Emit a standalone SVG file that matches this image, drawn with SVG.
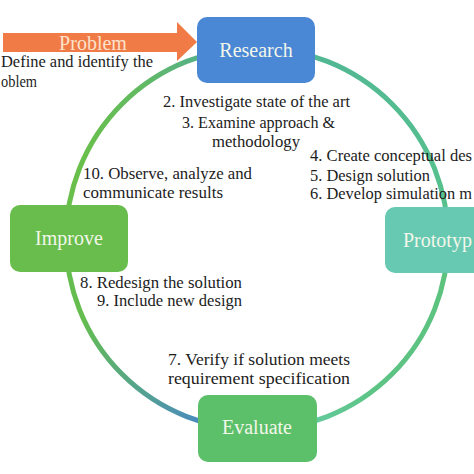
<svg xmlns="http://www.w3.org/2000/svg" width="474" height="474" viewBox="0 0 474 474">
  <style>
    .box { stroke: none; }
    .lbl { font-family: "Liberation Serif", "Times New Roman", serif; font-size: 20px; fill: #f2f7ea; text-anchor: middle; }
    .t { font-family: "Liberation Serif", "Times New Roman", serif; font-size: 16.5px; fill: #1c1c1c; }
    .ring { fill: none; stroke-width: 5; stroke-linecap: butt; }
  </style>
  <defs>
    <linearGradient id="gA" gradientUnits="userSpaceOnUse" x1="257" y1="48" x2="448" y2="239">
      <stop offset="0" stop-color="#50b596"/>
      <stop offset="1" stop-color="#57c28c"/>
    </linearGradient>
    <linearGradient id="gB" gradientUnits="userSpaceOnUse" x1="448" y1="239" x2="257" y2="430">
      <stop offset="0" stop-color="#5cc27c"/>
      <stop offset="0.6" stop-color="#5dc486"/>
      <stop offset="1" stop-color="#66cdaa"/>
    </linearGradient>
    <linearGradient id="gC" gradientUnits="userSpaceOnUse" x1="197" y1="420" x2="80" y2="320">
      <stop offset="0" stop-color="#4b8cbc"/>
      <stop offset="0.45" stop-color="#55a58a"/>
      <stop offset="1" stop-color="#66bd4f"/>
    </linearGradient>
    <linearGradient id="gD" gradientUnits="userSpaceOnUse" x1="90" y1="160" x2="197" y2="57">
      <stop offset="0" stop-color="#69bf4c"/>
      <stop offset="0.6" stop-color="#62ba62"/>
      <stop offset="1" stop-color="#56b188"/>
    </linearGradient>
  </defs>

  <g id="connectors">
    <path class="ring" stroke="url(#gA)" d="M 257 48 A 191 191 0 0 1 448 239"/>
    <path class="ring" stroke="url(#gB)" d="M 448 239 A 191 191 0 0 1 257 430"/>
    <path class="ring" stroke="url(#gC)" d="M 257 430 A 191 191 0 0 1 66 239"/>
    <path class="ring" stroke="url(#gD)" d="M 66 239 A 191 191 0 0 1 257 48"/>
    <g id="problem-arrow">
      <polygon fill="#f07b46" points="3,33 177,33 177,22 197,42 177,61 177,52 3,52"/>
      <text x="93" y="50" text-anchor="middle" style="font-family: 'Liberation Serif', 'Times New Roman', serif; font-size: 20px; fill: #fde2cc;">Problem</text>
    </g>
  </g>

  <g id="research">
    <rect class="box" x="197" y="17" width="118" height="66" rx="10" fill="#4a87d5"/>
    <text class="lbl" x="256" y="57">Research</text>
  </g>
  <g id="prototype">
    <rect class="box" x="385" y="207" width="118" height="66" rx="10" fill="#68c9b2"/>
    <text class="lbl" x="403" y="247" style="text-anchor: start;">Prototyp</text>
  </g>
  <g id="evaluate">
    <rect class="box" x="198" y="395" width="119" height="67" rx="10" fill="#5cbf69"/>
    <text class="lbl" x="257" y="434">Evaluate</text>
  </g>
  <g id="improve">
    <rect class="box" x="10" y="205" width="118" height="67" rx="10" fill="#68bd4c"/>
    <text class="lbl" x="69" y="245">Improve</text>
  </g>

  <g id="notes">
    <text class="t" x="1" y="67" textLength="152" lengthAdjust="spacingAndGlyphs">Define and identify the</text>
    <text class="t" x="1" y="87" textLength="36" lengthAdjust="spacingAndGlyphs">oblem</text>
    <text class="t" x="163" y="107" textLength="187" lengthAdjust="spacingAndGlyphs">2. Investigate state of the art</text>
    <text class="t" x="182" y="128" textLength="153" lengthAdjust="spacingAndGlyphs">3. Examine approach &amp;</text>
    <text class="t" x="212" y="147" textLength="88" lengthAdjust="spacingAndGlyphs">methodology</text>
    <text class="t" x="310" y="161" textLength="162" lengthAdjust="spacingAndGlyphs">4. Create conceptual des</text>
    <text class="t" x="310" y="181" textLength="120" lengthAdjust="spacingAndGlyphs">5. Design solution</text>
    <text class="t" x="310" y="199" textLength="162" lengthAdjust="spacingAndGlyphs">6. Develop simulation m</text>
    <text class="t" x="83" y="179" textLength="169" lengthAdjust="spacingAndGlyphs">10. Observe, analyze and</text>
    <text class="t" x="83" y="198" textLength="140" lengthAdjust="spacingAndGlyphs">communicate results</text>
    <text class="t" x="80" y="288" textLength="162" lengthAdjust="spacingAndGlyphs">8. Redesign the solution</text>
    <text class="t" x="97" y="306" textLength="145" lengthAdjust="spacingAndGlyphs">9. Include new design</text>
    <text class="t" x="168" y="365" textLength="182" lengthAdjust="spacingAndGlyphs">7. Verify if solution meets</text>
    <text class="t" x="168" y="384" textLength="182" lengthAdjust="spacingAndGlyphs">requirement specification</text>
  </g>
</svg>
